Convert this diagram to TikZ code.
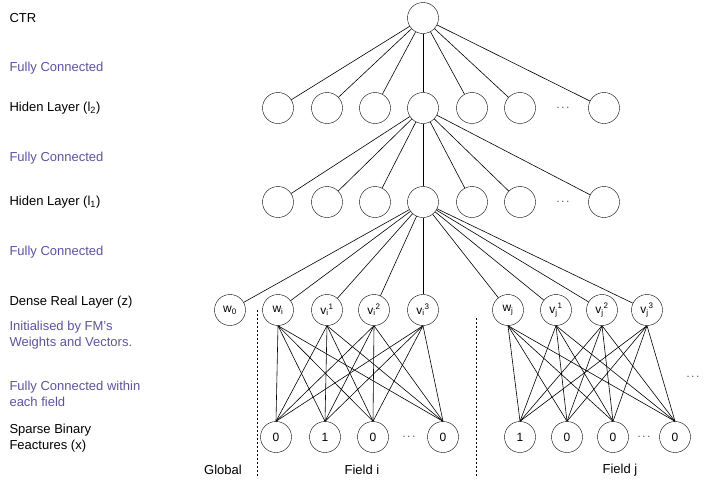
\documentclass[tikz,border=0pt]{standalone}
\usepackage{fontspec}
\setmainfont{Liberation Sans}
\definecolor{purp}{RGB}{92,82,170}
\begin{document}
\begin{tikzpicture}[x=1pt,y=-1pt,
  n/.style={circle,draw,minimum size=31pt,inner sep=0pt,font=\fontsize{12}{13}\selectfont},
  lab/.style={anchor=west,font=\fontsize{13}{15}\selectfont,align=left},
  fc/.style={lab,text=purp},
  ln/.style={line width=0.6pt},
  dots/.style={font=\fontsize{11}{12}\selectfont}]
\useasboundingbox (0,0) rectangle (720,488);
% labels
\node[lab] (t1) at (6,18) {CTR};
\node[fc] (t2) at (6,68) {Fully Connected};
\node[lab] (t3) at (6,108) {Hiden Layer (l\textsubscript{2})};
\node[fc] (t4) at (6,158) {Fully Connected};
\node[lab] (t5) at (6,202) {Hiden Layer (l\textsubscript{1})};
\node[fc] (t6) at (6,252) {Fully Connected};
\node[lab] (t7) at (6,302) {Dense Real Layer (z)};
\node[fc] (t8) at (6,335) {Initialised by FM's\\[1pt]Weights and Vectors.};
\node[fc] (t9) at (6,394) {Fully Connected within\\[1pt]each field};
\node[lab] (t10) at (6,438) {Sparse Binary\\[1pt]Feactures (x)};
\node[lab,anchor=center] (g) at (223,470) {Global};
\node[lab,anchor=center] (fi) at (362,470) {Field i};
\node[lab,anchor=center] (fj) at (620,470) {Field j};
% CTR
\node[n] (ctr) at (423,18) {};
\foreach \x/\i in {278/1,327/2,375/3,423/4,472/5,520/6,604/7}{
  \node[n] (a\i) at (\x,108) {};
  \node[n] (b\i) at (\x,202) {};
  \draw[ln] (ctr) -- (a\i);
}
\node[dots] (da) at (563,108) {$\cdots$};
\node[dots] (db) at (563,202) {$\cdots$};
\foreach \i in {1,...,7}{\draw[ln] (a4) -- (b\i);}
% dense layer
\node[n] (w0) at (230,310) {w\textsubscript{0}};
\node[n] (wi) at (278,310) {w\textsubscript{i}};
\node[n] (vi1) at (327,310) {v\textsubscript{i}\textsuperscript{1}};
\node[n] (vi2) at (374,310) {v\textsubscript{i}\textsuperscript{2}};
\node[n] (vi3) at (423,310) {v\textsubscript{i}\textsuperscript{3}};
\node[n] (wj) at (508,310) {w\textsubscript{j}};
\node[n] (vj1) at (556,310) {v\textsubscript{j}\textsuperscript{1}};
\node[n] (vj2) at (602,310) {v\textsubscript{j}\textsuperscript{2}};
\node[n] (vj3) at (647,310) {v\textsubscript{j}\textsuperscript{3}};
\foreach \t in {w0,wi,vi1,vi2,vi3,wj,vj1,vj2,vj3}{\draw[ln] (b4) -- (\t);}
% sparse
\node[n] (xi1) at (276,437) {0};
\node[n] (xi2) at (325,437) {1};
\node[n] (xi3) at (373,437) {0};
\node[n] (xi4) at (443,437) {0};
\node[n] (xj1) at (520,437) {1};
\node[n] (xj2) at (567,437) {0};
\node[n] (xj3) at (613,437) {0};
\node[n] (xj4) at (675,437) {0};
\node[dots] (dxi) at (409,437) {$\cdots$};
\node[dots] (dxj) at (644,437) {$\cdots$};
\node[dots] (dr) at (693,377) {$\cdots$};
\foreach \t in {wi,vi1,vi2,vi3}{\foreach \b in {xi1,xi2,xi3,xi4}{\draw[ln] (\t.south) -- (\b.north);}}
\foreach \t in {wj,vj1,vj2,vj3}{\foreach \b in {xj1,xj2,xj3,xj4}{\draw[ln] (\t.south) -- (\b.north);}}
% dashed separators
\coordinate (s1a) at (257,310); \coordinate (s1b) at (257,478);
\coordinate (s2a) at (476,318); \coordinate (s2b) at (476,478);
\draw[ln,dash pattern=on 2pt off 2pt] (s1a) -- (s1b);
\draw[ln,dash pattern=on 2pt off 2pt] (s2a) -- (s2b);
\end{tikzpicture}
\end{document}
